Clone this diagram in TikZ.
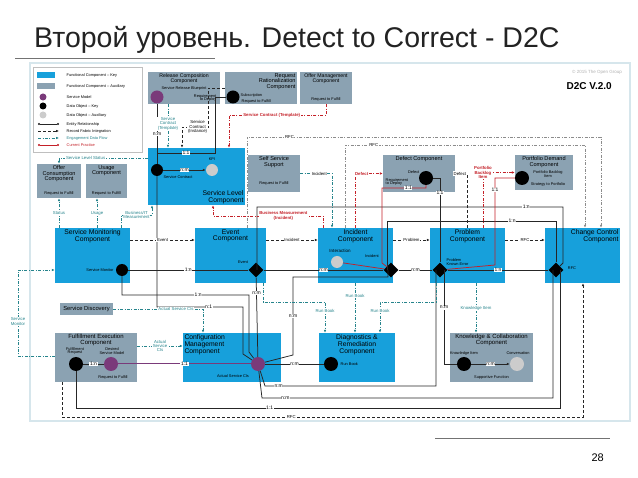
\documentclass[tikz,border=0pt]{standalone}
\usepackage{fontspec}
\setmainfont{Liberation Sans}
\usetikzlibrary{positioning,shapes.geometric,arrows.meta}
\definecolor{keyblue}{RGB}{23,160,219}
\definecolor{auxgrey}{RGB}{139,162,178}
\definecolor{svcpurple}{RGB}{122,58,122}
\definecolor{flowteal}{RGB}{38,132,140}
\definecolor{cpred}{RGB}{196,32,40}
\definecolor{frameblue}{RGB}{214,230,236}
\definecolor{titlegrey}{RGB}{35,35,35}
\newcommand{\fsz}[1]{\fontsize{#1}{#1}\selectfont}

\begin{document}
\begin{tikzpicture}[x=1pt, y=-1pt,
    keybox/.style={fill=keyblue, inner sep=0pt},
    auxbox/.style={fill=auxgrey, inner sep=0pt},
    ttl/.style={anchor=north, align=center, inner sep=1.5pt, font=\fsz{6.8}},
    auxttl/.style={ttl, font=\fsz{5.6}},
    note/.style={align=center, inner sep=0.5pt, font=\fsz{3.9}},
    keydot/.style={circle, fill=black, minimum size=13pt, inner sep=0pt},
    auxdot/.style={circle, fill=black!20, minimum size=12pt, inner sep=0pt},
    svcdot/.style={circle, fill=svcpurple, minimum size=13pt, inner sep=0pt},
    keydia/.style={diamond, fill=black, minimum size=15pt, inner sep=0pt},
    rel/.style={draw=black!85, line width=0.75pt},
    card/.style={fill=white, inner sep=0.6pt, font=\fsz{5}},
    flow/.style={fill=white, inner sep=0.6pt, font=\fsz{4.3}},
    fabric/.style={draw=black!85, line width=0.7pt, dash pattern=on 3pt off 2pt, -{Latex[length=3pt,width=2.6pt]}},
    engage/.style={draw=flowteal, line width=0.6pt, dash pattern=on 3pt off 1.5pt on 0.8pt off 1.5pt, -{Latex[length=3pt,width=2.6pt]}},
    cp/.style={draw=cpred, line width=0.75pt},
    cpflow/.style={draw=cpred, line width=0.6pt, dash pattern=on 3pt off 1.5pt on 0.8pt off 1.5pt, -{Latex[length=3pt,width=2.6pt]}},
    rfc/.style={draw=black!45, line width=0.6pt, dash pattern=on 3pt off 1.5pt on 0.8pt off 1.5pt, -{Latex[length=3pt,width=2.6pt]}},
  ]
  \useasboundingbox (0,0) rectangle (638,478);
  \fill[white] (0,0) rectangle (638,478);

  % slide title and footer
  \node[anchor=base west, inner sep=0, font=\fsz{28.5}, text=titlegrey] (title) at (34,48) {Второй уровень. Detect to Correct - D2C};
  \draw[black!55, line width=0.5pt] (15,58) -- (215,58);
  \draw[black!55, line width=0.5pt] (435,438) -- (610,438);
  \node[anchor=base east, inner sep=0, font=\fsz{11}] (pageno) at (604,462) {28};
  \draw[frameblue, line width=1.5pt] (30,63) rectangle (630,421);

  \node[anchor=north east, inner sep=0, font=\fsz{4.5}, text=black!30] (copy) at (622,70) {\textcopyright{} 2015 The Open Group};
  \node[anchor=north east, inner sep=0, font=\bfseries\fsz{10}] (version) at (612,82) {D2C V.2.0};

  % legend
  \node[draw=black!25, line width=0.4pt, minimum width=109pt, minimum height=85pt, inner sep=0] (legend) at (87.5,109.5) {};
  \fill[keyblue] (37,72) rectangle (55,78);
  \fill[auxgrey] (37,83) rectangle (55,89);
  \node[svcdot, minimum size=7pt] (lgsvc) at (43,97) {};
  \node[keydot, minimum size=7pt] (lgkey) at (43,106) {};
  \node[auxdot, minimum size=7pt] (lgaux) at (43,115) {};
  \draw[rel, {Circle[length=2pt]}-{Circle[length=2pt]}] (38,124) -- (59,124);
  \draw[fabric] (38,131) -- (59,131);
  \draw[engage] (38,138) -- (59,138);
  \draw[cp, {Circle[length=2pt]}-{Circle[length=2pt]}] (38,145) -- (59,145);
  \foreach \yy/\txt/\col in {75/Functional Component -- Key/black, 86/Functional Component -- Auxiliary/black,
      97/Service Model/black, 106/Data Object -- Key/black, 115/Data Object -- Auxiliary/black,
      124/Entity Relationship/black, 131/Record Fabric Integration/black,
      138/Engagement Data Flow/flowteal, 145/Current Practice/cpred}
    \node[note, anchor=west, text=\col] at (66,\yy) {\txt};

  % auxiliary components, top
  \node[auxbox, minimum width=72pt, minimum height=32pt, label={[auxttl, font=\fsz{5.2}]north:{Release Composition\\Component}}] (relcomp) at (184,88) {};
  \node[auxbox, minimum width=72pt, minimum height=32pt, label={[auxttl, anchor=north east, align=right]north east:{Request\\Rationalization\\Component}}] (reqrat) at (261,88) {};
  \node[auxbox, minimum width=52pt, minimum height=32pt, label={[auxttl, font=\fsz{5.2}]north:{Offer Management\\Component}}] (offer) at (326,88) {};
  \node[note] (relblue) at (184,88) {Service Release Blueprint};
  \node[note, align=right, anchor=east] (reldep) at (217,98) {Requirement\\to Deploy};
  \node[note, anchor=west] (reqsub) at (240,95) {Subscription};
  \node[note, anchor=west] (reqful) at (241,101) {Request to Fulfill};
  \node[note] (offful) at (326,99) {Request to Fulfill};
  \node[svcdot] (relDot) at (157,97) {};
  \node[keydot] (reqDot) at (233,97) {};

  % service level
  \node[keybox, minimum width=97pt, minimum height=57pt, label={[ttl, anchor=south east, align=right]south east:{Service Level\\Component}}] (slc) at (196.5,176.5) {};
  \node[note] (slkpi) at (212,159) {KPI};
  \node[note] (slcon) at (178,177) {Service Contract};
  \node[keydot, minimum size=12pt] (slDot) at (157,170) {};
  \node[auxdot] (kpiDot) at (212,170) {};

  \node[auxbox, minimum width=52pt, minimum height=37pt, label={[auxttl]north:{Self Service\\Support}}] (self) at (274,173.5) {};
  \node[note] (selfful) at (274,183) {Request to Fulfill};
  \node[auxbox, minimum width=72pt, minimum height=37pt, label={[auxttl]north:{Defect Component}}] (defect) at (419,173.5) {};
  \node[note, anchor=east] (defdef) at (420,172) {Defect};
  \node[note, align=left, anchor=west] (defdep) at (385,182) {Requirement\\to Deploy};
  \node[keydot, minimum size=14pt] (defDot) at (426,178) {};
  \node[auxbox, minimum width=58pt, minimum height=35pt, label={[auxttl]north:{Portfolio Demand\\Component}}] (port) at (544,172.5) {};
  \node[note] (portitem) at (548,174) {Portfolio Backlog\\Item};
  \node[note] (portstr) at (548,184) {Strategy to Portfolio};
  \node[keydot, minimum size=14pt] (portDot) at (522,178) {};

  \node[auxbox, minimum width=44pt, minimum height=34pt, label={[auxttl]north:{Offer\\Consumption\\Component}}] (ocons) at (59,181) {};
  \node[note] (oconsful) at (59,193) {Request to Fulfill};
  \node[auxbox, minimum width=41pt, minimum height=34pt, label={[auxttl]north:{Usage\\Component}}] (usage) at (106.5,181) {};
  \node[note] (usageful) at (106.5,193) {Request to Fulfill};

  % value stream row
  \node[keybox, minimum width=75pt, minimum height=55pt, label={[ttl]north:{Service Monitoring\\Component}}] (smc) at (92.5,255.5) {};
  \node[note] (smcmon) at (100,270) {Service Monitor};
  \node[keydot, minimum size=12pt] (smDot) at (122,270) {};
  \node[keybox, minimum width=71pt, minimum height=55pt, label={[ttl]north:{Event\\Component}}] (event) at (230.5,255.5) {};
  \node[note] (evev) at (243,262) {Event};
  \node[keydia] (evDia) at (256,270) {};
  \node[keybox, minimum width=75pt, minimum height=55pt, label={[ttl]north:{Incident\\Component}}] (inc) at (355.5,255.5) {};
  \node[note, font=\fsz{4.5}] (incint) at (340,251) {Interaction};
  \node[note] (incinc) at (372,256) {Incident};
  \node[auxdot] (incGray) at (337,262) {};
  \node[keydia] (incDia) at (391,270) {};
  \node[keybox, minimum width=75pt, minimum height=55pt, label={[ttl]north:{Problem\\Component}}] (prob) at (467.5,255.5) {};
  \node[note, align=left, anchor=west] (probke) at (446,262) {Problem\\Known Error};
  \node[keydia] (probDia) at (440,270) {};
  \node[keybox, minimum width=75pt, minimum height=55pt, label={[ttl, anchor=north east, align=right]north east:{Change Control\\Component}}] (chg) at (582.5,255.5) {};
  \node[note] (chgrfc) at (572,268) {RFC};
  \node[keydia] (chgDia) at (556,270) {};

  % bottom row
  \node[auxbox, minimum width=53pt, minimum height=12pt, font=\fsz{5.8}] (sdisc) at (86.5,309) {Service Discovery};
  \node[auxbox, minimum width=82pt, minimum height=49pt, label={[auxttl, font=\fsz{6}]north:{Fulfillment Execution\\Component}}] (fulfil) at (96,357.5) {};
  \node[note] (fulreq) at (75,351) {Fulfillment\\Request};
  \node[note] (fulmod) at (112,351) {Desired\\Service Model};
  \node[note] (fulful) at (113,377) {Request to Fulfill};
  \node[keydot, minimum size=14pt] (fulDot) at (76,364) {};
  \node[svcdot, minimum size=14pt] (fulSvc) at (111,364) {};
  \node[keybox, minimum width=98pt, minimum height=49pt, label={[ttl, anchor=north west, align=left]north west:{Configuration\\Management\\Component}}] (cm) at (232,357.5) {};
  \node[note] (cmcis) at (233,376) {Actual Service CIs};
  \node[svcdot, minimum size=14pt] (cmSvc) at (258,364) {};
  \node[keybox, minimum width=76pt, minimum height=49pt, label={[ttl]north:{Diagnostics \&\\Remediation\\Component}}] (diag) at (357,357.5) {};
  \node[note, anchor=west] (diagrb) at (340,364) {Run Book};
  \node[keydot, minimum size=14pt] (diagDot) at (331,364) {};
  \node[auxbox, minimum width=83pt, minimum height=49pt, label={[auxttl, font=\fsz{6}]north:{Knowledge \& Collaboration\\Component}}] (know) at (491.5,357.5) {};
  \node[note] (knowitem) at (464,353) {Knowledge Item};
  \node[note] (knowconv) at (518,353) {Conversation};
  \node[note] (knowsup) at (491.5,377) {Supportive Function};
  \node[keydot, minimum size=14pt] (knowDot) at (464,364) {};
  \node[auxdot, minimum size=14pt] (convDot) at (517,364) {};

  % entity relationships
  \draw[rel] (relDot) -- node[card]{n:m} (slDot);
  \draw[rel] (reqDot) -| (215,153) -| node[card, pos=0.25]{1:1} (slDot);
  \draw[rel, -{Latex[length=3pt,width=2.6pt]}] (slDot) -- node[card]{n:m} (kpiDot);
  \draw[rel] (smDot) -- node[card]{1:n} (evDia);
  \draw[rel] (evDia) -- node[card]{n:m} (incDia);
  \draw[rel] (incDia) -- node[card]{n:m} (probDia);
  \draw[rel] (probDia) -- node[card]{1:n} (chgDia);
  \draw[rel] (smDot) |- node[card, pos=0.8]{1:n} (249,295) -- (249,352) -- (cmSvc);
  \draw[rel] (slDot) |- node[card, pos=0.8]{n:1} (243,307) -- (243,354) -- (cmSvc);
  \draw[rel] (evDia) -- node[card, pos=0.2]{n:m} (cmSvc);
  \draw[rel] (incDia) ++(-3,0) |- (293,277) -- node[card]{n:m} (293,355) -- (cmSvc);
  \draw[rel] (probDia) ++(-4,0) |- node[card, pos=0.96]{n:m} (265,386) -- (cmSvc);
  \draw[rel] (probDia) ++(4,0) |- node[card, pos=0.2]{n:m} (knowDot);
  \draw[rel] (chgDia) ++(-3,0) |- node[card, pos=0.96]{n:m} (262,398) -- (cmSvc);
  \draw[rel] (chgDia) ++(4,0) |- node[card, pos=0.8]{1:1} (76,408) -- (fulDot);
  \draw[rel] (evDia) ++(1,0) -- (257,207) -- node[card, pos=0.88]{1:n} (563,207) -- (563,263) -- (chgDia);
  \draw[rel] (incDia) ++(-4,0) |- node[card, pos=0.87]{1:n} (556,221) -- (chgDia);
  \draw[rel] (defDot) -| node[card, pos=0.59]{1:1} (probDia);
  \draw[rel] (cmSvc) -- node[card]{n:m} (diagDot);
  \draw[rel] (fulDot) -- node[card]{1:n} (fulSvc);
  \draw[rel, -{Latex[length=3pt,width=2.6pt]}] (knowDot) -- node[card]{n:m} (convDot);
  \draw[svcpurple, line width=1pt] (fulSvc) -- node[card, text=black]{1:1} (cmSvc);

  % current practice
  \draw[cp] (defDot) |- node[card, text=black, pos=0.7]{1:1} (382,188) -- (382,263) -- (incDia);
  \draw[cp] (portDot) -| node[card, text=black, pos=0.57]{1:1} (495,265) -- (probDia);
  \draw[cp] (incGray) -- (incDia);

  % record fabric integration
  \draw[fabric] (smc.east |- 0,240) -- node[flow]{Event} (event.west |- 0,240);
  \draw[fabric] (event.east |- 0,240) -- node[flow]{Incident} (inc.west |- 0,240);
  \draw[fabric] (inc.east |- 0,240) -- node[flow]{Problem} (prob.west |- 0,240);
  \draw[fabric] (prob.east |- 0,240) -- node[flow]{RFC} (chg.west |- 0,240);
  \draw[fabric] (prob.north -| 467,0) |- node[flow, pos=0.8]{Defect} (defect.east);
  \draw[fabric] (reqrat.west |- 0,88) -| (208,127) -| node[flow, pos=0.2, align=center]{Service\\Contract\\(Instance)} (slc.north -| 182,0);
  \draw[fabric] (fulfil.south -| 62,0) |- node[flow, pos=0.72]{RFC} (583,417) -- (chg.south -| 583,0);

  % engagement data flow
  \draw[engage] (slc.west |- 0,158) -| node[flow, text=flowteal, pos=0.35]{Service Level Status} (ocons.north);
  \draw[engage] (smc.north -| 59,0) -- node[flow, text=flowteal]{Status} (ocons.south);
  \draw[engage] (smc.north -| 97,0) -- node[flow, text=flowteal]{Usage} (usage.south -| 97,0);
  \draw[engage] (smc.north -| 121,0) |- node[flow, text=flowteal, pos=0.75, align=center]{Business/IT\\Measurement} (152,215) -- (slc.south -| 152,0);
  \draw[engage] (relcomp.south -| 168,0) -- node[flow, text=flowteal, pos=0.45, align=center]{Service\\Contract\\(Template)} (slc.north -| 168,0);
  \draw[engage] (self.east) -| node[flow, text=black, pos=0.3]{Incident} (inc.north -| 332,0);
  \draw[engage] (fulfil.west |- 0,356) -| node[flow, text=flowteal, pos=0.7, align=center]{Service\\Monitor} (18,270) -- (smc.west |- 0,270);
  \draw[engage] (sdisc.east) -| node[flow, text=flowteal, pos=0.35]{Actual Service CIs} (cm.north -| 203,0);
  \draw[engage] (fulfil.east |- 0,346) -- node[flow, text=flowteal, align=center]{Actual\\Service\\CIs} (cm.west |- 0,346);
  \draw[engage] (inc.south -| 355,0) -- node[flow, text=flowteal, pos=0.25]{Run Book} (diag.north -| 355,0);
  \draw[engage] (event.south -| 263,0) |- (325,302) -- node[flow, text=flowteal, pos=0.3]{Run Book} (diag.north -| 325,0);
  \draw[engage] (prob.south -| 436,0) |- (380,302) -- node[flow, text=flowteal, pos=0.3]{Run Book} (diag.north -| 380,0);
  \draw[engage] (prob.south -| 476,0) -- node[flow, text=flowteal]{Knowledge Item} (know.north -| 476,0);
  \draw[rfc] (event.north -| 247,0) |- node[flow, text=black, pos=0.56]{RFC} (601,137) -- (chg.north -| 601,0);
  \draw[rfc] (inc.north -| 345,0) |- node[flow, text=black, pos=0.56]{RFC} (585,145) -- (chg.north -| 585,0);

  % current practice flows
  \draw[cpflow] (offer.south) |- node[flow, text=cpred, pos=0.78, font=\bfseries\fsz{4.3}]{Service Contract (Template)} (229,115) -- (slc.north -| 229,0);
  \draw[cpflow] (inc.north -| 323,0) |- node[flow, text=cpred, pos=0.68, align=center, font=\bfseries\fsz{4.3}]{Business Measurement\\(Incident)} (213,216) -- (slc.south -| 213,0);
  \draw[cpflow] (inc.north -| 355,0) |- node[flow, text=cpred, pos=0.62, font=\bfseries\fsz{4.3}]{Defect} (defect.west);
  \draw[cpflow] (prob.north -| 483,0) |- node[flow, text=cpred, pos=0.5, align=center, font=\bfseries\fsz{4.3}]{Portfolio\\Backlog\\Item} (port.west);
\end{tikzpicture}
\end{document}
